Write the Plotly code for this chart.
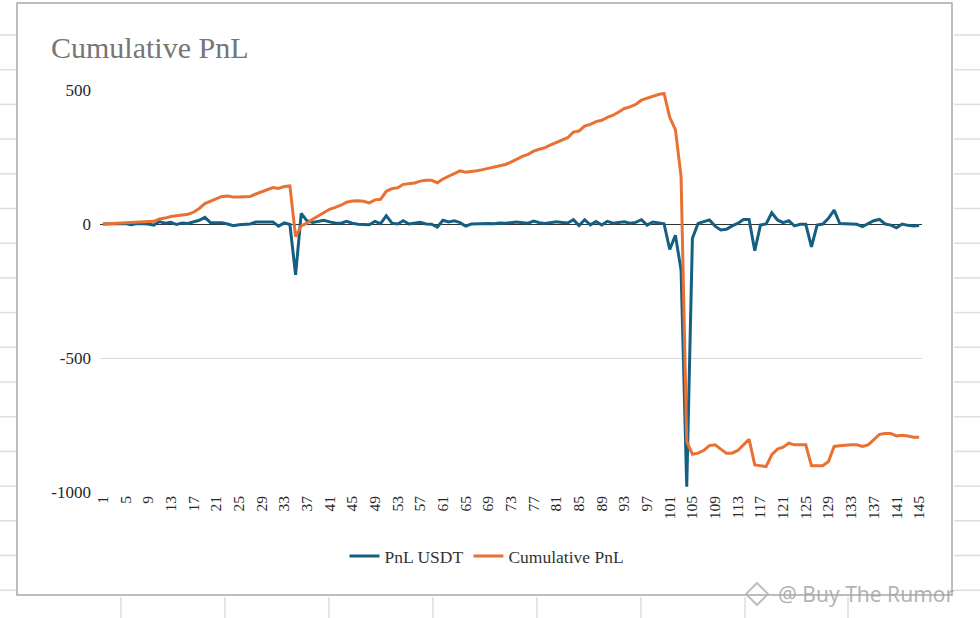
import plotly.graph_objects as go

# ---------------- data ----------------
periods = list(range(1, 146))

pnl_usdt = [
    0, 1, 1, 1, 2, -3, 2, 1, 0, -4,
    9, 3, 6, -2, 4, 2, 8, 14, 25, 5,
    5, 5, 0, -6, -3, -2, 0, 7, 7, 7,
    7, -8, 4, -2, -190, 40, 12, 6, 10, 14,
    8, 4, 3, 10, 3, -1, -2, -3, 10, 1,
    31, 3, 0, 12, 0, 2, 6, 0, -1, -12,
    14, 8, 12, 5, -8, 0, 1, 3, 2, 1,
    4, 3, 5, 7, 5, 3, 11, 5, 2, 6,
    8, 6, 4, 16, -6, 16, -3, 9, -4, 10,
    3, 6, 8, 3, 6, 16, -4, 7, 3, 1,
    -95, -42, -172, -980, -53, 2, 9, 15, -8, -22,
    -20, -7, 2, 17, 17, -100, -4, 0, 42, 15,
    5, 12, -7, -1, -1, -85, -4, 0, 21, 52,
    2, 1, 0, -1, -10, 2, 12, 17, 0, -4,
    -14, 0, -5, -7, -6,
]

cumulative_pnl = [
    0, 1, 2, 3, 5, 6, 7, 8, 9, 10,
    19, 22, 28, 30, 33, 36, 44, 58, 76, 86,
    94, 103, 104, 101, 101, 102, 103, 112, 120, 128,
    136, 133, 140, 142, -47, -7, 3, 18, 30, 42,
    55, 62, 70, 81, 86, 87, 85, 79, 90, 92,
    122, 132, 135, 148, 150, 153, 160, 163, 163, 154,
    168, 178, 190, 198, 193, 195, 199, 203, 208, 212,
    216, 222, 231, 242, 252, 260, 272, 279, 285, 295,
    305, 313, 322, 343, 347, 365, 372, 382, 387, 398,
    406, 418, 431, 437, 446, 462, 469, 477, 483, 487,
    398, 352, 178, -812, -859, -855, -845, -827, -824, -840,
    -855, -855, -845, -824, -803, -899, -903, -905, -861, -840,
    -833, -818, -824, -824, -824, -902, -903, -902, -886, -830,
    -827, -825, -824, -824, -830, -824, -806, -785, -782, -782,
    -791, -788, -791, -796, -796,
]

x_tick_vals = list(range(1, 146, 4))
x_tick_text = [str(v) for v in x_tick_vals]
y_tick_vals = [-1000, -500, 0, 500]
y_tick_text = ["-1000", "-500", "0", "500"]

series_names = ["PnL USDT", "Cumulative PnL"]
series_colors = ["#156082", "#E97132"]

# ---------------- layout geometry ----------------
W, H = 980, 618
L, R, T, B = 100, 58, 90, 126
PW, PH = W - L - R, H - T - B


def px(xp):
    return (xp - L) / PW


def py(yp):
    return (H - B - yp) / PH


SERIF = "Liberation Serif, Times New Roman, serif"

fig = go.Figure()
fig.add_trace(go.Scatter(x=periods, y=pnl_usdt, mode="lines", name=series_names[0],
                         line=dict(color=series_colors[0], width=3)))
fig.add_trace(go.Scatter(x=periods, y=cumulative_pnl, mode="lines", name=series_names[1],
                         line=dict(color=series_colors[1], width=3)))

shapes = []
grid_col = "#dedede"
# spreadsheet rows at the left and right of the chart frame
row_y = [35 + k * 34.7 for k in range(17)]
for yy in row_y:
    if yy < 594:
        shapes.append(dict(type="line", xref="paper", yref="paper", x0=px(0), x1=px(16),
                           y0=py(yy), y1=py(yy), line=dict(color=grid_col, width=1.5)))
        shapes.append(dict(type="line", xref="paper", yref="paper", x0=px(954), x1=px(980),
                           y0=py(yy), y1=py(yy), line=dict(color=grid_col, width=1.5)))
# spreadsheet columns below the chart frame
for xx in [121, 225, 329, 433, 537, 641, 745, 848]:
    shapes.append(dict(type="line", xref="paper", yref="paper", x0=px(xx), x1=px(xx),
                       y0=py(597), y1=py(618), line=dict(color=grid_col, width=1.5)))
# chart frame
shapes.append(dict(type="rect", xref="paper", yref="paper", x0=px(17), x1=px(952),
                   y0=py(595), y1=py(3), line=dict(color="#a8a8a8", width=1.5),
                   fillcolor="rgba(0,0,0,0)", layer="below"))
# watermark logo (diamond)
cx, cy, r = 757, 594, 11
shapes.append(dict(type="path", xref="paper", yref="paper",
                   path=f"M {px(cx)},{py(cy - r)} L {px(cx + r)},{py(cy)} L {px(cx)},{py(cy + r)} "
                        f"L {px(cx - r)},{py(cy)} Z",
                   line=dict(color="rgba(180,180,180,0.85)", width=2)))

annotations = [
    dict(text="Cumulative PnL", xref="paper", yref="paper", x=px(49), y=py(47),
         xanchor="left", yanchor="middle", showarrow=False,
         font=dict(family=SERIF, size=30, color="#767676")),
    dict(text="@ Buy The Rumor", xref="paper", yref="paper", x=px(776), y=py(594),
         xanchor="left", yanchor="middle", showarrow=False,
         font=dict(family="Noto Sans, DejaVu Sans, sans-serif", size=21,
                   color="rgba(165,165,165,0.85)")),
]

fig.update_layout(
    width=W, height=H,
    margin=dict(l=L, r=R, t=T, b=B, pad=0),
    paper_bgcolor="white", plot_bgcolor="white",
    font=dict(family=SERIF, color="#262626"),
    showlegend=True,
    legend=dict(orientation="h", x=px(487), xanchor="center", y=py(556), yanchor="middle",
                font=dict(family=SERIF, size=17.5, color="#333333"),
                bgcolor="rgba(0,0,0,0)", itemwidth=30, tracegroupgap=0),
    shapes=shapes,
    annotations=annotations,
    xaxis=dict(range=[0.5, 145.5], tickmode="array", tickvals=x_tick_vals, ticktext=x_tick_text,
               tickangle=-90, tickfont=dict(family=SERIF, size=15.5, color="#262626"),
               showgrid=False, zeroline=False, showline=False, ticks="", fixedrange=True),
    yaxis=dict(range=[-1000, 500], tickmode="array", tickvals=y_tick_vals, ticktext=y_tick_text,
               tickfont=dict(family=SERIF, size=17, color="#262626"),
               showgrid=True, gridcolor="#d9d9d9", gridwidth=1,
               zeroline=True, zerolinecolor="#333333", zerolinewidth=1.3,
               showline=False, ticks="", ticklabelstandoff=8, fixedrange=True),
)

fig.write_html("out.html", config={"displayModeBar": False},
               post_script="document.body.style.margin='0';")
